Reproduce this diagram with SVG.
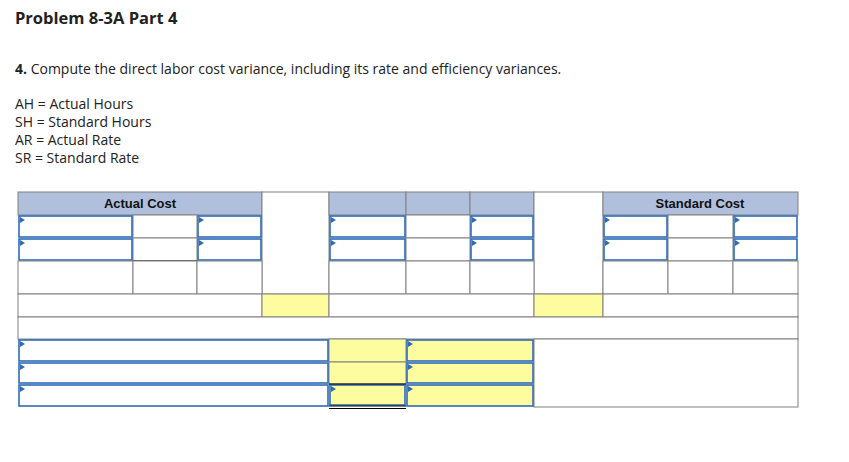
<svg xmlns="http://www.w3.org/2000/svg" width="849" height="462" viewBox="0 0 849 462">
<style>
text{font-family:"Open Sans","Liberation Sans",sans-serif;fill:#222}
.c{fill:#fff;stroke:#808080;stroke-width:1}
.h{fill:#b0c0dc;stroke:#808080;stroke-width:1}
.y{fill:#fdfda0;stroke:#808080;stroke-width:1}
.i{fill:#fff;stroke:#2f6bb7;stroke-width:1.6}
.iy{fill:#fdfda0;stroke:#2f6bb7;stroke-width:1.6}
.m{fill:#2f6bb7}
.hd{font-family:"Liberation Sans",Arial,sans-serif;font-weight:bold;font-size:13px;fill:#111}
</style>
<defs><polygon id="mk" points="0,0 5,3 0,6" class="m"/></defs>
<rect width="849" height="462" fill="#fff"/>
<text x="15" y="24" font-size="16.5" font-weight="bold">Problem 8-3A Part 4</text>
<text x="15" y="74" font-size="14"><tspan font-weight="bold">4.</tspan> Compute the direct labor cost variance, including its rate and efficiency variances.</text>
<text x="15" y="109" font-size="14">AH = Actual Hours</text>
<text x="15" y="127" font-size="14">SH = Standard Hours</text>
<text x="15" y="145" font-size="14">AR = Actual Rate</text>
<text x="15" y="163" font-size="14">SR = Standard Rate</text>
<g id="table">
<rect class="h" x="18" y="192" width="244" height="23"/>
<text class="hd" x="140" y="208" text-anchor="middle">Actual Cost</text>
<rect class="c" x="262" y="192" width="67" height="102"/>
<rect class="h" x="329" y="192" width="77" height="23"/>
<rect class="h" x="406" y="192" width="64" height="23"/>
<rect class="h" x="470" y="192" width="64" height="23"/>
<rect class="c" x="534" y="192" width="69" height="102"/>
<rect class="h" x="603" y="192" width="195" height="23"/>
<text class="hd" x="700" y="208" text-anchor="middle">Standard Cost</text>
<g>
<rect class="c" x="133" y="215" width="64" height="23"/><rect class="c" x="133" y="238" width="64" height="23"/>
<rect class="c" x="406" y="215" width="64" height="23"/><rect class="c" x="406" y="238" width="64" height="23"/>
<rect class="c" x="668" y="215" width="65" height="23"/><rect class="c" x="668" y="238" width="65" height="23"/>
<rect class="i" x="19" y="216" width="113" height="21"/><rect class="i" x="19" y="239" width="113" height="21"/>
<rect class="i" x="198" y="216" width="63" height="21"/><rect class="i" x="198" y="239" width="63" height="21"/>
<rect class="i" x="330" y="216" width="75" height="21"/><rect class="i" x="330" y="239" width="75" height="21"/>
<rect class="i" x="471" y="216" width="62" height="21"/><rect class="i" x="471" y="239" width="62" height="21"/>
<rect class="i" x="604" y="216" width="63" height="21"/><rect class="i" x="604" y="239" width="63" height="21"/>
<rect class="i" x="734" y="216" width="63" height="21"/><rect class="i" x="734" y="239" width="63" height="21"/>
<line x1="133" y1="261" x2="197" y2="261" stroke="#000" stroke-width="1.2"/>
</g>
<rect class="c" x="18" y="261" width="115" height="33"/><rect class="c" x="133" y="261" width="64" height="33"/><rect class="c" x="197" y="261" width="65" height="33"/>
<rect class="c" x="329" y="261" width="77" height="33"/><rect class="c" x="406" y="261" width="64" height="33"/><rect class="c" x="470" y="261" width="64" height="33"/>
<rect class="c" x="603" y="261" width="65" height="33"/><rect class="c" x="668" y="261" width="65" height="33"/><rect class="c" x="733" y="261" width="65" height="33"/>
<rect class="c" x="18" y="294" width="244" height="23"/><rect class="y" x="262" y="294" width="67" height="23"/>
<rect class="c" x="329" y="294" width="205" height="23"/><rect class="y" x="534" y="294" width="69" height="23"/>
<rect class="c" x="603" y="294" width="195" height="23"/>
<rect class="c" x="18" y="317" width="780" height="22"/>
<rect class="c" x="534" y="339" width="264" height="68"/>
<rect class="y" x="329" y="339" width="77" height="23"/><rect class="y" x="329" y="362" width="77" height="22"/>
<rect class="i" x="19" y="340" width="309" height="21"/><rect class="i" x="19" y="363" width="309" height="20"/><rect class="i" x="19" y="385" width="309" height="21"/>
<rect class="iy" x="407" y="340" width="126" height="21"/><rect class="iy" x="407" y="363" width="126" height="20"/><rect class="iy" x="407" y="385" width="126" height="21"/>
<rect class="iy" x="330" y="385" width="75" height="20"/>
<line x1="329" y1="384" x2="406" y2="384" stroke="#000" stroke-width="1.2"/>
<line x1="329" y1="406" x2="406" y2="406" stroke="#000" stroke-width="1"/>
<line x1="329" y1="408.5" x2="406" y2="408.5" stroke="#000" stroke-width="1"/>
<g>
<use href="#mk" x="20" y="217"/><use href="#mk" x="20" y="240"/>
<use href="#mk" x="199" y="217"/><use href="#mk" x="199" y="240"/>
<use href="#mk" x="331" y="217"/><use href="#mk" x="331" y="240"/>
<use href="#mk" x="472" y="217"/><use href="#mk" x="472" y="240"/>
<use href="#mk" x="605" y="217"/><use href="#mk" x="605" y="240"/>
<use href="#mk" x="735" y="217"/><use href="#mk" x="735" y="240"/>
<use href="#mk" x="20" y="341"/><use href="#mk" x="20" y="364"/><use href="#mk" x="20" y="386"/>
<use href="#mk" x="408" y="341"/><use href="#mk" x="408" y="364"/><use href="#mk" x="408" y="386"/>
<use href="#mk" x="331" y="386"/>
</g>
</g>
</svg>
